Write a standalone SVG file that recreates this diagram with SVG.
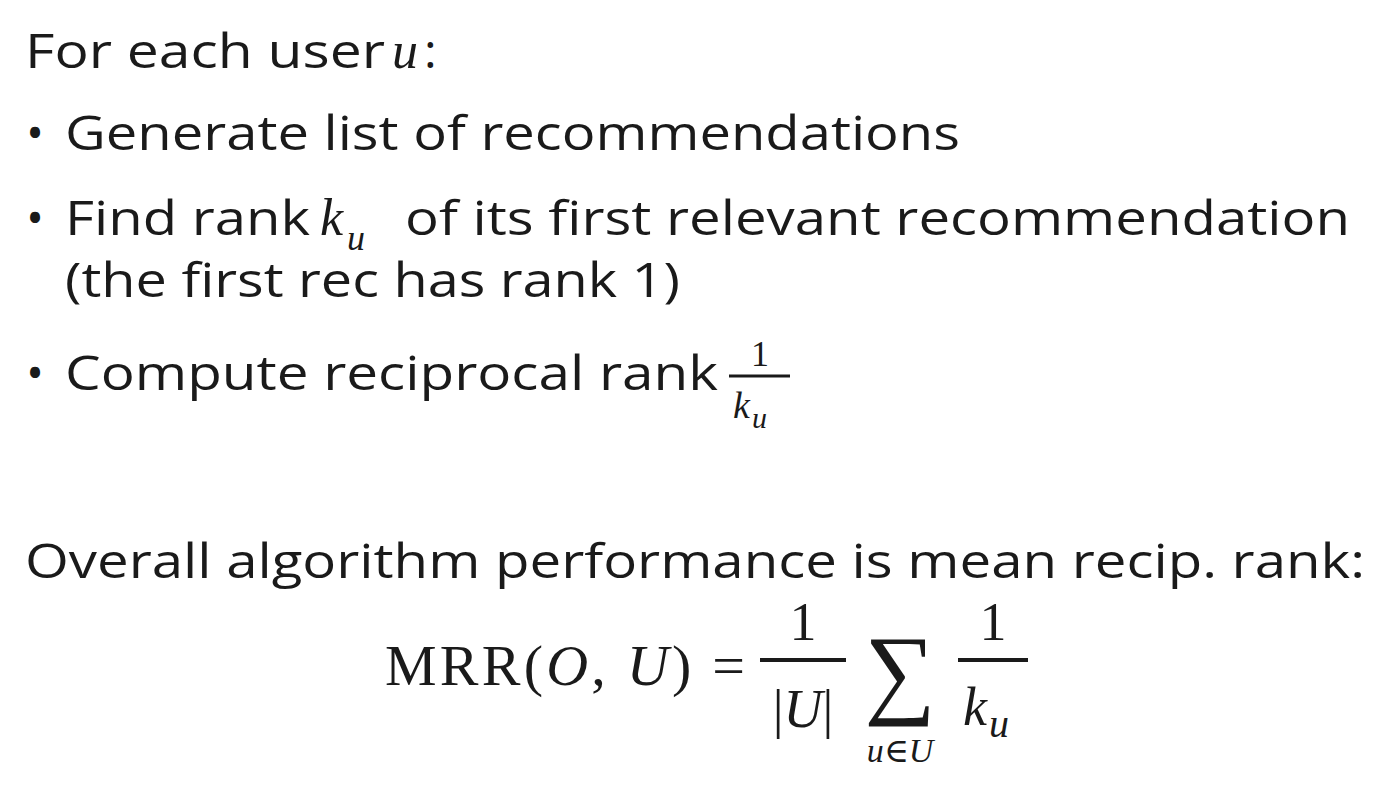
<svg xmlns="http://www.w3.org/2000/svg" width="1400" height="790" viewBox="0 0 1400 790">
<style>
.t{font-family:"Open Sans","Noto Sans",sans-serif;font-size:48px;fill:#1a1a1a}
.m{font-family:"Liberation Serif","DejaVu Serif",serif;fill:#1a1a1a}
.i{font-style:italic}
</style>
<rect width="1400" height="790" fill="#fff"/>
<text class="t" x="25" y="68" textLength="360" lengthAdjust="spacingAndGlyphs">For each user</text>
<text class="m i" x="392" y="68" font-size="52">u</text>
<text class="t" x="424" y="68">:</text>
<text class="t" x="26" y="150">•</text>
<text class="t" x="65" y="150" textLength="895" lengthAdjust="spacingAndGlyphs">Generate list of recommendations</text>
<text class="t" x="26" y="235">•</text>
<text class="t" x="65" y="235" textLength="245" lengthAdjust="spacingAndGlyphs">Find rank</text>
<text class="m i" x="320" y="235" font-size="52">k<tspan dx="4" dy="15" font-size="36">u</tspan></text>
<text class="t" x="405" y="235" textLength="945" lengthAdjust="spacingAndGlyphs">of its first relevant recommendation</text>
<text class="t" x="65" y="297" textLength="615" lengthAdjust="spacingAndGlyphs">(the first rec has rank 1)</text>
<text class="t" x="26" y="390">•</text>
<text class="t" x="65" y="390" textLength="653" lengthAdjust="spacingAndGlyphs">Compute reciprocal rank</text>
<text class="m" x="760" y="366" font-size="36" text-anchor="middle">1</text>
<line x1="729" y1="376" x2="790" y2="376" stroke="#1a1a1a" stroke-width="3"/>
<text class="m i" x="733" y="418" font-size="38">k<tspan dx="2" dy="10" font-size="30">u</tspan></text>
<text class="t" x="25" y="578" textLength="1340" lengthAdjust="spacingAndGlyphs">Overall algorithm performance is mean recip. rank:</text>
<text class="m" x="385" y="685" font-size="58" textLength="360" lengthAdjust="spacing">MRR(<tspan class="i">O</tspan>, <tspan class="i">U</tspan>) =</text>
<text class="m" x="803" y="640" font-size="54" text-anchor="middle">1</text>
<line x1="760" y1="660" x2="846" y2="660" stroke="#1a1a1a" stroke-width="4"/>
<text class="m" x="803" y="727" font-size="54" text-anchor="middle">|<tspan class="i">U</tspan>|</text>
<text class="m" x="900" y="705" font-size="100" text-anchor="middle">∑</text>
<text class="m i" x="900" y="762" font-size="34" text-anchor="middle">u∈U</text>
<text class="m" x="993" y="640" font-size="54" text-anchor="middle">1</text>
<line x1="958" y1="660" x2="1028" y2="660" stroke="#1a1a1a" stroke-width="4"/>
<text class="m i" x="963" y="725" font-size="54">k<tspan dx="2" dy="12" font-size="40">u</tspan></text>
</svg>
